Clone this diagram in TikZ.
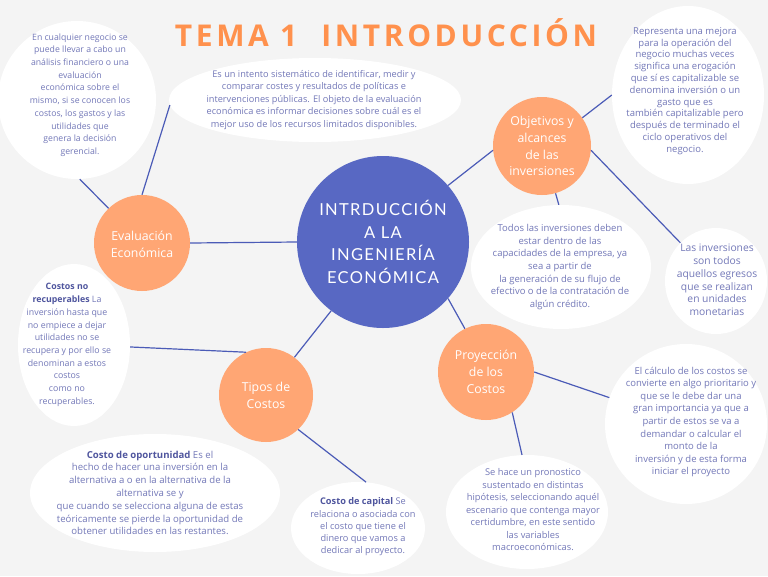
\documentclass[tikz,border=0pt]{standalone}
\usepackage{fontspec}
\setmainfont{Open Sans}
\newfontfamily\titlefont[LetterSpace=12]{Open Sans}
\newfontfamily\circfont[LetterSpace=8]{Lato}
\newfontfamily\orbfont{Open Sans}
\usetikzlibrary{shapes.geometric}
\definecolor{bg}{HTML}{F4F4F4}
\definecolor{mainblue}{HTML}{5868C3}
\definecolor{orng}{HTML}{FFA674}
\definecolor{ttl}{HTML}{FF914D}
\definecolor{lnblue}{HTML}{4B5BB7}
\definecolor{txt}{HTML}{7378B8}
\definecolor{txtb}{HTML}{4F559E}
\newcommand\bh[1]{{\color{txtb}\bfseries #1}}
\newcommand\fsz[2]{\fontsize{#1}{#2}\selectfont}
\begin{document}
\begin{tikzpicture}[x=1pt,y=-1pt,
  bub/.style={ellipse, fill=white, draw=none, inner sep=0pt},
  orb/.style={circle, fill=orng, draw=none, inner sep=0pt},
  otxt/.style={text=white, align=center, inner sep=0pt, font=\orbfont\fsz{12.3}{16.8}},
  stxt/.style={text=txt, align=center, inner sep=0pt},
  conn/.style={draw=lnblue, line width=1.2pt}]
\useasboundingbox (0,0) rectangle (768,576);
\fill[bg] (0,0) rectangle (768,576);

% title
\node[text=ttl, font=\titlefont\fsz{30}{32}\bfseries] (title) at (386,33) {TEMA 1\hspace{24pt}INTRODUCCIÓN};

% white bubbles
\node[bub, minimum width=158pt, minimum height=158pt] (tl) at (77,100) {};
\node[bub, minimum width=292pt, minimum height=84pt] (tc) at (315,100) {};
\node[bub, minimum width=152pt, minimum height=178pt] (tr) at (688,95) {};
\node[bub, minimum width=180pt, minimum height=124pt] (mid) at (561,267) {};
\node[bub, minimum width=102pt, minimum height=106pt] (rs) at (716,281) {};
\node[bub, minimum width=112pt, minimum height=162pt] (lb) at (74,345) {};
\node[bub, minimum width=250pt, minimum height=118pt] (bl) at (155,493) {};
\node[bub, minimum width=134pt, minimum height=92pt] (bc) at (358,528) {};
\node[bub, minimum width=162pt, minimum height=114pt] (br) at (527,512) {};
\node[bub, minimum width=162pt, minimum height=160pt] (rm) at (686,424) {};

% main circle
\node[circle, fill=mainblue, inner sep=0pt, minimum size=172pt] (main) at (383,242) {};
\node[text=white, align=center, inner sep=0pt, font=\circfont\fsz{16.5}{22.5}] (maintxt) at (383,242) {INTRDUCCIÓN\\A LA\\INGENIERÍA\\ECONÓMICA};

% orange circles
\node[orb, minimum size=96pt] (eval) at (142,243) {};
\node[orb, minimum size=98pt] (obj) at (542,146) {};
\node[orb, minimum size=96pt] (proy) at (486,372) {};
\node[orb, minimum size=94pt] (tipos) at (266,395) {};
\node[otxt] (evaltxt) at (142,244) {Evaluación\\Económica};
\node[otxt] (objtxt) at (542,146) {Objetivos y\\alcances\\de las\\inversiones};
\node[otxt] (proytxt) at (486,372) {Proyección\\de los\\Costos};
\node[otxt] (tipostxt) at (266,395) {Tipos de\\Costos};

% bubble texts
\node[stxt, font=\fsz{8.7}{12.7}] (tltxt) at (80,95) {En cualquier negocio se\\puede llevar a cabo un\\análisis financiero o una\\evaluación\\económica sobre el\\mismo, si se conocen los\\costos, los gastos y las\\utilidades que\\genera la decisión\\gerencial.};
\node[stxt, font=\fsz{9.2}{12.5}] (tctxt) at (314,100) {Es un intento sistemático de identificar, medir y\\comparar costes y resultados de políticas e\\intervenciones públicas. El objeto de la evaluación\\económica es informar decisiones sobre cuál es el\\mejor uso de los recursos limitados disponibles.};
\node[stxt, font=\fsz{9.5}{11.8}] (trtxt) at (685,91) {Representa una mejora\\para la operación del\\negocio muchas veces\\significa una erogación\\que sí es capitalizable se\\denomina inversión o un\\gasto que es\\también capitalizable pero\\después de terminado el\\ciclo operativos del\\negocio.};
\node[stxt, font=\fsz{9.5}{12.7}] (midtxt) at (560,267) {Todos las inversiones deben\\estar dentro de las\\capacidades de la empresa, ya\\sea a partir de\\la generación de su flujo de\\efectivo o de la contratación de\\algún crédito.};
\node[stxt, font=\fsz{10.3}{12.8}] (rstxt) at (717,280) {Las inversiones\\son todos\\aquellos egresos\\que se realizan\\en unidades\\monetarias};
\node[stxt, font=\fsz{8.8}{12.7}] (lbtxt) at (67,345) {\bh{Costos no}\\\bh{recuperables} La\\inversión hasta que\\no empiece a dejar\\utilidades no se\\recupera y por ello se\\denominan a estos\\costos\\como no\\recuperables.};
\node[stxt, font=\fsz{9.6}{12.8}] (bltxt) at (150,493) {\bh{Costo de oportunidad} Es el\\hecho de hacer una inversión en la\\alternativa a o en la alternativa de la\\alternativa se y\\que cuando se selecciona alguna de estas\\teóricamente se pierde la oportunidad de\\obtener utilidades en las restantes.};
\node[stxt, font=\fsz{9.2}{12.3}] (bctxt) at (363,527) {\bh{Costo de capital} Se\\relaciona o asociada con\\el costo que tiene el\\dinero que vamos a\\dedicar al proyecto.};
\node[stxt, font=\fsz{9.3}{12.5}] (brtxt) at (533,510) {Se hace un pronostico\\sustentado en distintas\\hipótesis, seleccionando aquél\\escenario que contenga mayor\\certidumbre, en este sentido\\las variables\\macroeconómicas.};
\node[stxt, font=\fsz{9.5}{12.6}] (rmtxt) at (691,422) {El cálculo de los costos se\\convierte en algo prioritario y\\que se le debe dar una\\gran importancia ya que a\\partir de estos se va a\\demandar o calcular el\\monto de la\\inversión y de esta forma\\iniciar el proyecto};

% connectors
\draw[conn] (main.180) -- (eval.0);
\draw[conn] (main.41) -- (obj.185);
\draw[conn] (main.-41) -- (proy.116);
\draw[conn] (main.233) -- (tipos.53);
\draw[conn] (eval.134) -- (tl.-88);
\draw[conn] (eval.90) -- (tc.182);
\draw[conn] (obj.35) -- (tr.180);
\draw[conn] (obj.-5) -- (rs.133);
\draw[conn] (obj.-74) -- (mid.92);
\draw[conn] (proy.0) -- (rm.161);
\draw[conn] (proy.-57) -- (br.95);
\draw[conn] (tipos.115) -- (lb.-2);
\draw[conn] (tipos.-47) -- (bc.80);
\end{tikzpicture}
\end{document}
